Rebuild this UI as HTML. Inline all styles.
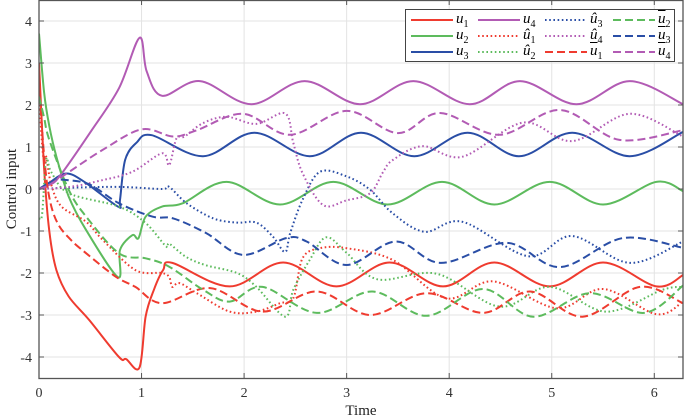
<!DOCTYPE html>
<html><head><meta charset="utf-8">
<style>
body{margin:0;background:#fff;}
#wrap{position:relative;width:685px;height:420px;overflow:hidden;font-family:"Liberation Serif",serif;}
svg{position:absolute;left:0;top:0;}
#legend{position:absolute;left:405px;top:9px;width:268px;height:51px;border:1px solid #444;background:#fff;}
.le{position:absolute;height:16px;font-size:15px;line-height:16px;}
.le svg{position:relative;vertical-align:middle;}
.le span{position:absolute;left:46px;top:-1px;white-space:nowrap;}
.le sub{font-size:10px;font-style:normal;}
</style></head><body>
<div id="wrap">
<svg id="chart" width="685" height="420"></svg>
<div id="legend"></div>
</div>
<script>
const xTicks=[0,1,2,3,4,5,6];
const yTicks=[-4,-3,-2,-1,0,1,2,3,4];
const seriesNames=["u1","u2","u3","u4","uh1","uh2","uh3","uh4","ub1","ub2","ub3","ub4"];
const u1X=[0,0.05,0.1,0.17,0.29,0.49,0.78,0.85,0.98,1.04,1.12,1.21,1.3,1.86,2.38,2.9,3.42,3.94,4.44,4.98,5.5,6.02,6.28];
const u1Y=[3.0,0.5,-1.0,-1.93,-2.56,-3.12,-4.0,-4.05,-4.25,-3.04,-2.4,-1.93,-1.76,-2.32,-1.75,-2.32,-1.75,-2.32,-1.75,-2.32,-1.75,-2.32,-2.05];
const u2X=[0,0.05,0.1,0.17,0.29,0.46,0.77,0.79,0.91,0.97,1.04,1.2,1.4,1.83,2.35,2.87,3.4,3.93,4.44,4.98,5.5,6.02,6.28];
const u2Y=[3.7,2.3,1.5,0.77,-0.18,-0.98,-2.1,-1.45,-1.1,-1.17,-0.66,-0.42,-0.34,0.17,-0.37,0.17,-0.37,0.17,-0.37,0.17,-0.37,0.17,-0.05];
const u3X=[0,0.1,0.27,0.46,0.77,0.79,0.84,0.95,1.1,1.6,2.1,2.64,3.14,3.66,4.18,4.68,5.2,5.76,6.28];
const u3Y=[0,0.15,0.37,0.14,-0.42,-0.26,0.69,1.1,1.28,0.78,1.34,0.78,1.34,0.78,1.34,0.78,1.34,0.78,1.36];
const u4X=[0,0.1,0.2,0.5,0.78,0.98,1.05,1.2,1.57,2.07,2.59,3.13,3.65,4.2,4.69,5.24,5.76,6.28];
const u4Y=[0,0.1,0.3,1.35,2.4,3.6,2.8,2.22,2.57,2.02,2.57,2.02,2.57,2.02,2.57,2.02,2.57,2.02];
const uh1X=[0,0.04,0.07,0.12,0.22,0.46,0.62,0.94,1.2,1.27,1.3,1.37,1.54,1.86,2.12,2.35,2.48,2.57,2.74,3.0,3.45,3.97,4.43,5.05,5.5,6.02,6.28];
const uh1Y=[2.2,0.8,0.77,0.1,-0.42,-0.78,-1.21,-1.93,-2.0,-2.1,-2.33,-2.24,-2.48,-2.92,-2.92,-2.72,-2.6,-1.65,-1.41,-1.41,-1.69,-2.6,-2.2,-2.84,-2.38,-2.98,-2.68];
const uh2X=[0,0.03,0.07,0.12,0.29,0.78,1.04,1.24,1.27,1.43,1.62,1.93,2.12,2.4,2.48,2.64,2.8,3.0,3.3,3.88,4.49,4.98,5.53,6.08,6.28];
const uh2Y=[-0.7,-0.6,0.7,0.4,-0.1,-0.42,-0.81,-1.37,-1.3,-1.61,-1.81,-2.0,-2.33,-3.04,-2.4,-1.69,-1.15,-1.52,-2.15,-2.02,-2.8,-2.33,-2.92,-2.4,-2.33];
const uh3X=[0,0.3,0.78,1.2,1.27,1.44,1.7,1.93,2.12,2.28,2.4,2.45,2.57,2.74,3.0,3.23,3.45,3.76,4.13,4.77,5.2,5.76,6.28];
const uh3Y=[0,0.03,0.05,0.0,0.05,-0.34,-0.7,-0.8,-0.8,-1.13,-1.5,-1.05,-0.26,0.41,0.3,-0.02,-0.58,-1.02,-0.78,-1.6,-1.12,-1.76,-1.25];
const uh4X=[0,0.3,0.6,0.91,1.2,1.27,1.34,1.42,1.6,1.83,2.12,2.4,2.48,2.57,2.77,3.0,3.23,3.35,3.45,3.74,4.13,4.72,5.2,5.76,6.28];
const uh4Y=[0,0.05,0.2,0.41,0.85,0.57,1.2,1.25,1.57,1.72,1.55,1.8,1.1,0.38,-0.38,-0.27,-0.1,0.38,0.69,1.02,0.77,1.58,1.14,1.79,1.25];
const ub1X=[0,0.05,0.1,0.18,0.31,0.46,0.75,0.94,1.2,1.67,2.18,2.71,3.23,3.78,4.33,4.79,5.3,5.86,6.28];
const ub1Y=[2.5,0.8,-0.2,-0.81,-1.21,-1.53,-2.09,-2.33,-2.72,-2.36,-2.92,-2.44,-3.0,-2.48,-2.95,-2.44,-3.04,-2.33,-2.72];
const ub2X=[0,0.05,0.1,0.29,0.46,0.78,1.04,1.27,1.6,1.86,2.18,2.71,3.25,3.78,4.33,4.82,5.37,5.9,6.28];
const ub2Y=[2.2,1.7,1.17,-0.02,-0.66,-1.53,-1.65,-1.85,-2.4,-2.68,-2.33,-2.95,-2.44,-3.02,-2.38,-3.04,-2.48,-2.95,-2.3];
const ub3X=[0,0.15,0.29,0.5,0.78,1.11,1.31,1.63,1.99,2.41,2.61,3.0,3.48,3.92,4.56,5.08,5.69,6.28];
const ub3Y=[0,0.2,0.21,0.1,-0.34,-0.66,-0.7,-1.05,-1.57,-1.17,-1.25,-1.81,-1.25,-1.76,-1.28,-1.86,-1.17,-1.4];
const ub4X=[0,0.1,0.27,0.62,1.0,1.31,1.54,1.99,2.45,3.0,3.5,3.91,4.49,5.08,5.66,6.28];
const ub4Y=[0,0.1,0.37,0.93,1.42,1.25,1.4,1.79,1.29,1.86,1.33,1.81,1.29,1.88,1.17,1.4];

const RED="#ef3b2f",GRN="#5dbb5d",BLU="#2a4ea6",PUR="#b25bb4";
const SOLID="",DOT="1.6,2.6",DASH="8,4";
const seriesDefs=[
 ["u1",u1X,u1Y,RED,SOLID],["u2",u2X,u2Y,GRN,SOLID],["u3",u3X,u3Y,BLU,SOLID],["u4",u4X,u4Y,PUR,SOLID],
 ["u-hat-1",uh1X,uh1Y,RED,DOT],["u-hat-2",uh2X,uh2Y,GRN,DOT],["u-hat-3",uh3X,uh3Y,BLU,DOT],["u-hat-4",uh4X,uh4Y,PUR,DOT],
 ["u-bar-1",ub1X,ub1Y,RED,DASH],["u-bar-2",ub2X,ub2Y,GRN,DASH],["u-bar-3",ub3X,ub3Y,BLU,DASH],["u-bar-4",ub4X,ub4Y,PUR,DASH]];

const L=39,R=683,T=0,B=378,XMIN=0,XMAX=6.28,YMIN=-4.5,YMAX=4.5;
function sx(v){return L+(v-XMIN)/(XMAX-XMIN)*(R-L);}
function sy(v){return B-(v-YMIN)/(YMAX-YMIN)*(B-T);}
const NS="http://www.w3.org/2000/svg";
const svg=document.getElementById('chart');
function mk(t,a){const e=document.createElementNS(NS,t);for(const k in a)e.setAttribute(k,a[k]);return e;}

for(const t of xTicks){const g=mk('line',{x1:sx(t),x2:sx(t),y1:T,y2:B,stroke:'#e3e3e3','stroke-width':1});

svg.appendChild(g);}
for(const t of yTicks){const g=mk('line',{x1:L,x2:R,y1:sy(t),y2:sy(t),stroke:'#e3e3e3','stroke-width':1});

svg.appendChild(g);}

function pathD(xs,ys){const p=xs.map((x,i)=>[sx(x),sy(ys[i])]);let d='M'+p[0][0].toFixed(1)+','+p[0][1].toFixed(1);
for(let i=0;i<p.length-1;i++){const p0=p[i-1]||p[i],p1=p[i],p2=p[i+1],p3=p[i+2]||p2;
const c1=[p1[0]+(p2[0]-p0[0])/6,p1[1]+(p2[1]-p0[1])/6],c2=[p2[0]-(p3[0]-p1[0])/6,p2[1]-(p3[1]-p1[1])/6];
d+=' C'+c1.map(v=>v.toFixed(1)).join(',')+' '+c2.map(v=>v.toFixed(1)).join(',')+' '+p2[0].toFixed(1)+','+p2[1].toFixed(1);}return d;}

const clip=mk('clipPath',{id:'cp'});clip.appendChild(mk('rect',{x:L,y:T,width:R-L,height:B-T}));svg.appendChild(clip);
for(const s of seriesDefs){const a={d:pathD(s[1],s[2]),fill:'none',stroke:s[3],'stroke-width':2,'clip-path':'url(#cp)'};
if(s[4])a['stroke-dasharray']=s[4];const p=mk('path',a);

svg.appendChild(p);}

const frame=mk('rect',{x:L,y:T+0.5,width:R-L,height:B-T,fill:'none',stroke:'#555','stroke-width':1.3});

svg.appendChild(frame);
for(const t of xTicks){svg.appendChild(mk('line',{x1:sx(t),x2:sx(t),y1:B,y2:B-5,stroke:'#555'}));svg.appendChild(mk('line',{x1:sx(t),x2:sx(t),y1:T,y2:T+5,stroke:'#555'}));
const tx=mk('text',{x:sx(t),y:B+19,'text-anchor':'middle','font-size':14,fill:'#333','font-family':'Liberation Serif, serif'});tx.textContent=t;

svg.appendChild(tx);}
for(const t of yTicks){svg.appendChild(mk('line',{x1:L,x2:L+5,y1:sy(t),y2:sy(t),stroke:'#555'}));svg.appendChild(mk('line',{x1:R,x2:R-5,y1:sy(t),y2:sy(t),stroke:'#555'}));
const tx=mk('text',{x:L-7,y:sy(t)+5,'text-anchor':'end','font-size':14,fill:'#333','font-family':'Liberation Serif, serif'});tx.textContent=t;

svg.appendChild(tx);}
const xt=mk('text',{x:(L+R)/2,y:415,'text-anchor':'middle','font-size':15,fill:'#222','font-family':'Liberation Serif, serif'});xt.textContent='Time';

svg.appendChild(xt);
const yt=mk('text',{x:0,y:0,'text-anchor':'middle','font-size':15,fill:'#222','font-family':'Liberation Serif, serif',transform:'translate(16,'+sy(0)+') rotate(-90)'});yt.textContent='Control input';

svg.appendChild(yt);

const legItems=[
 [0,0,RED,SOLID,'<i>u</i><sub>1</sub>'],[0,1,GRN,SOLID,'<i>u</i><sub>2</sub>'],[0,2,BLU,SOLID,'<i>u</i><sub>3</sub>'],
 [1,0,PUR,SOLID,'<i>u</i><sub>4</sub>'],[1,1,RED,DOT,'<i>û</i><sub>1</sub>'],[1,2,GRN,DOT,'<i>û</i><sub>2</sub>'],
 [2,0,BLU,DOT,'<i>û</i><sub>3</sub>'],[2,1,PUR,DOT,'<i>û</i><sub>4</sub>'],[2,2,RED,DASH,'<i style="text-decoration:overline">u</i><sub>1</sub>'],
 [3,0,GRN,DASH,'<i style="text-decoration:overline">u</i><sub>2</sub>'],[3,1,BLU,DASH,'<i style="text-decoration:overline">u</i><sub>3</sub>'],[3,2,PUR,DASH,'<i style="text-decoration:overline">u</i><sub>4</sub>']];
const leg=document.getElementById('legend');
const colX=[4,71,138,206],rowY=[2,18,34];
for(const it of legItems){const d=document.createElement('div');d.className='le';d.style.left=colX[it[0]]+'px';d.style.top=rowY[it[1]]+'px';
d.innerHTML='<svg width="44" height="16" style="position:absolute;left:0;top:0"><line x1="1" x2="43" y1="8" y2="8" stroke="'+it[2]+'" stroke-width="2"'+(it[3]?' stroke-dasharray="'+it[3]+'"':'')+'/></svg><span>'+it[4]+'</span>';

leg.appendChild(d);}
</script>
</body></html>
